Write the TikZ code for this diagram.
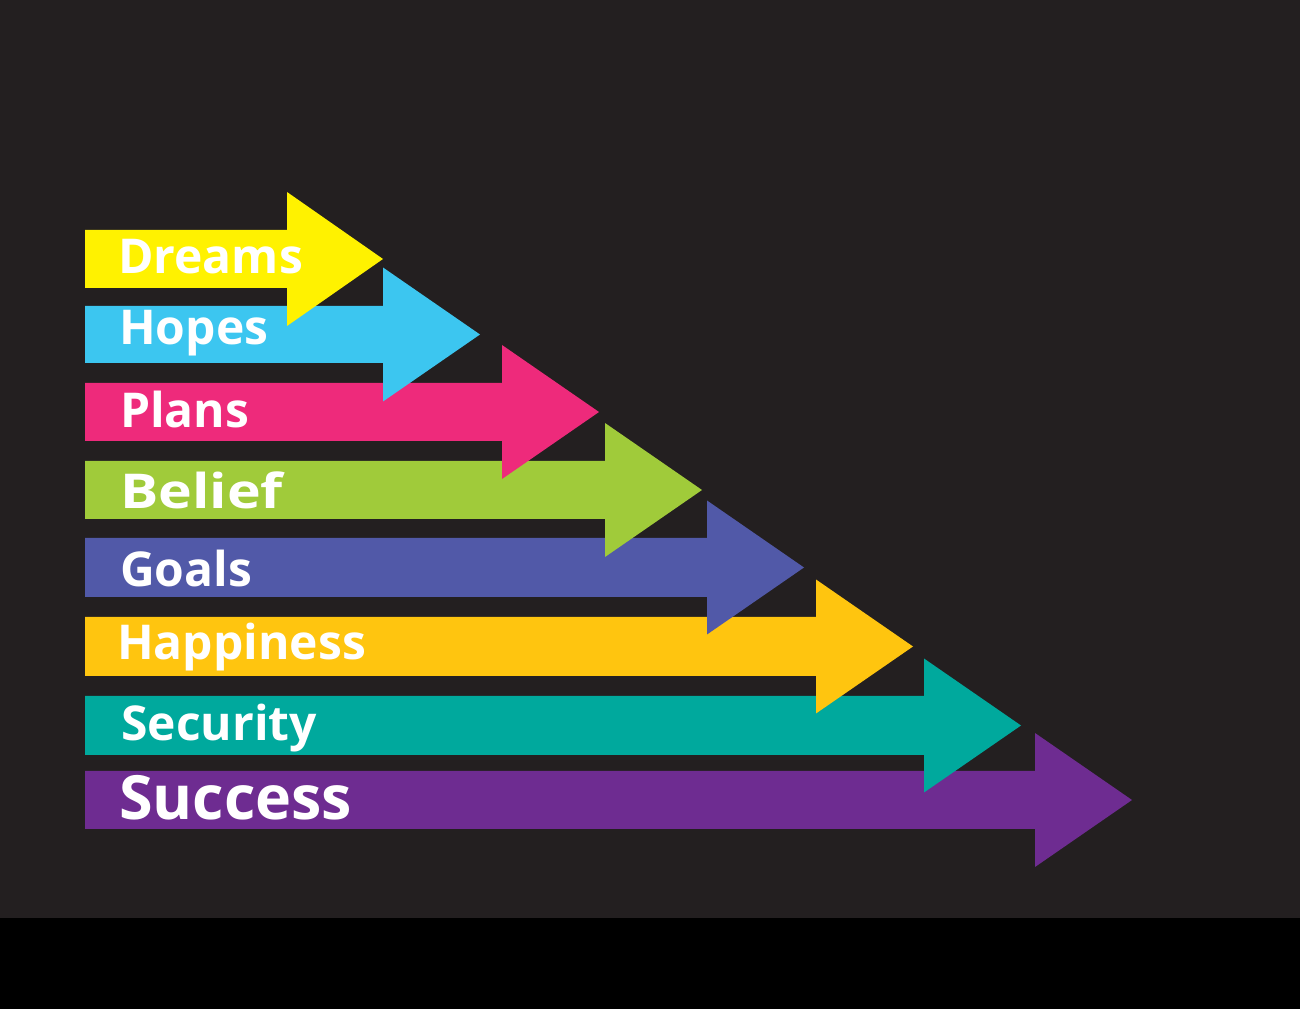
\documentclass[tikz,border=0pt]{standalone}
\usepackage{fontspec}
\setmainfont{Open Sans}
\usepackage{tikz}
\definecolor{backdrop}{RGB}{35,31,32}
\definecolor{dreamyellow}{RGB}{255,242,0}
\definecolor{hopecyan}{RGB}{60,198,240}
\definecolor{planpink}{RGB}{238,42,123}
\definecolor{beliefgreen}{RGB}{160,203,58}
\definecolor{goalblue}{RGB}{81,89,168}
\definecolor{happyorange}{RGB}{255,197,15}
\definecolor{securityteal}{RGB}{0,169,157}
\definecolor{successpurple}{RGB}{110,44,145}

\begin{document}
\begin{tikzpicture}[x=1pt, y=1pt,
    word/.style={text=white, anchor=base west, inner sep=0pt,
                 font=\bfseries\fontsize{48}{50}\selectfont},
    bigword/.style={word, font=\bfseries\fontsize{61}{64}\selectfont}]
    \useasboundingbox (0,0) rectangle (1300,1009);
    % Background
    \fill[backdrop] (0,91) rectangle (1300,1009);
    \fill[black] (0,0) rectangle (1300,91);

    % Arrows, drawn from the bottom up so the upper heads lie on top
    \fill[successpurple] (85,238) -| (1035,276) -- (1132,209) -- (1035,142) |- (85,180) -- cycle;
    \fill[securityteal] (85,313) -| (924,350.5) -- (1021,283.5) -- (924,216.5) |- (85,254) -- cycle;
    \fill[happyorange] (85,392) -| (816,429.5) -- (913,362.5) -- (816,295.5) |- (85,333) -- cycle;
    \fill[goalblue] (85,471) -| (707,508.5) -- (804,441.5) -- (707,374.5) |- (85,412) -- cycle;
    \fill[beliefgreen] (85,548) -| (605,586) -- (702,519) -- (605,452) |- (85,490) -- cycle;
    \fill[planpink] (85,626) -| (502,664) -- (599,597) -- (502,530) |- (85,568) -- cycle;
    \fill[hopecyan] (85,703) -| (383,741.5) -- (480,674.5) -- (383,607.5) |- (85,646) -- cycle;
    \fill[dreamyellow] (85,779) -| (287,817) -- (383,750) -- (287,683) |- (85,721) -- cycle;

    % Labels
    \node[word] (dreams) at (118,735) {Dreams};
    \node[word] (hopes) at (119,664) {Hopes};
    \node[word] (plans) at (120,581) {Plans};
    \node[word] (belief) at (120,500) {\scalebox{1.19}[1]{Belief}};
    \node[word] (goals) at (120,422) {Goals};
    \node[word] (happiness) at (117,349) {Happiness};
    \node[word] (security) at (121,268) {Security};
    \node[bigword] (success) at (119,189) {Success};
\end{tikzpicture}
\end{document}
